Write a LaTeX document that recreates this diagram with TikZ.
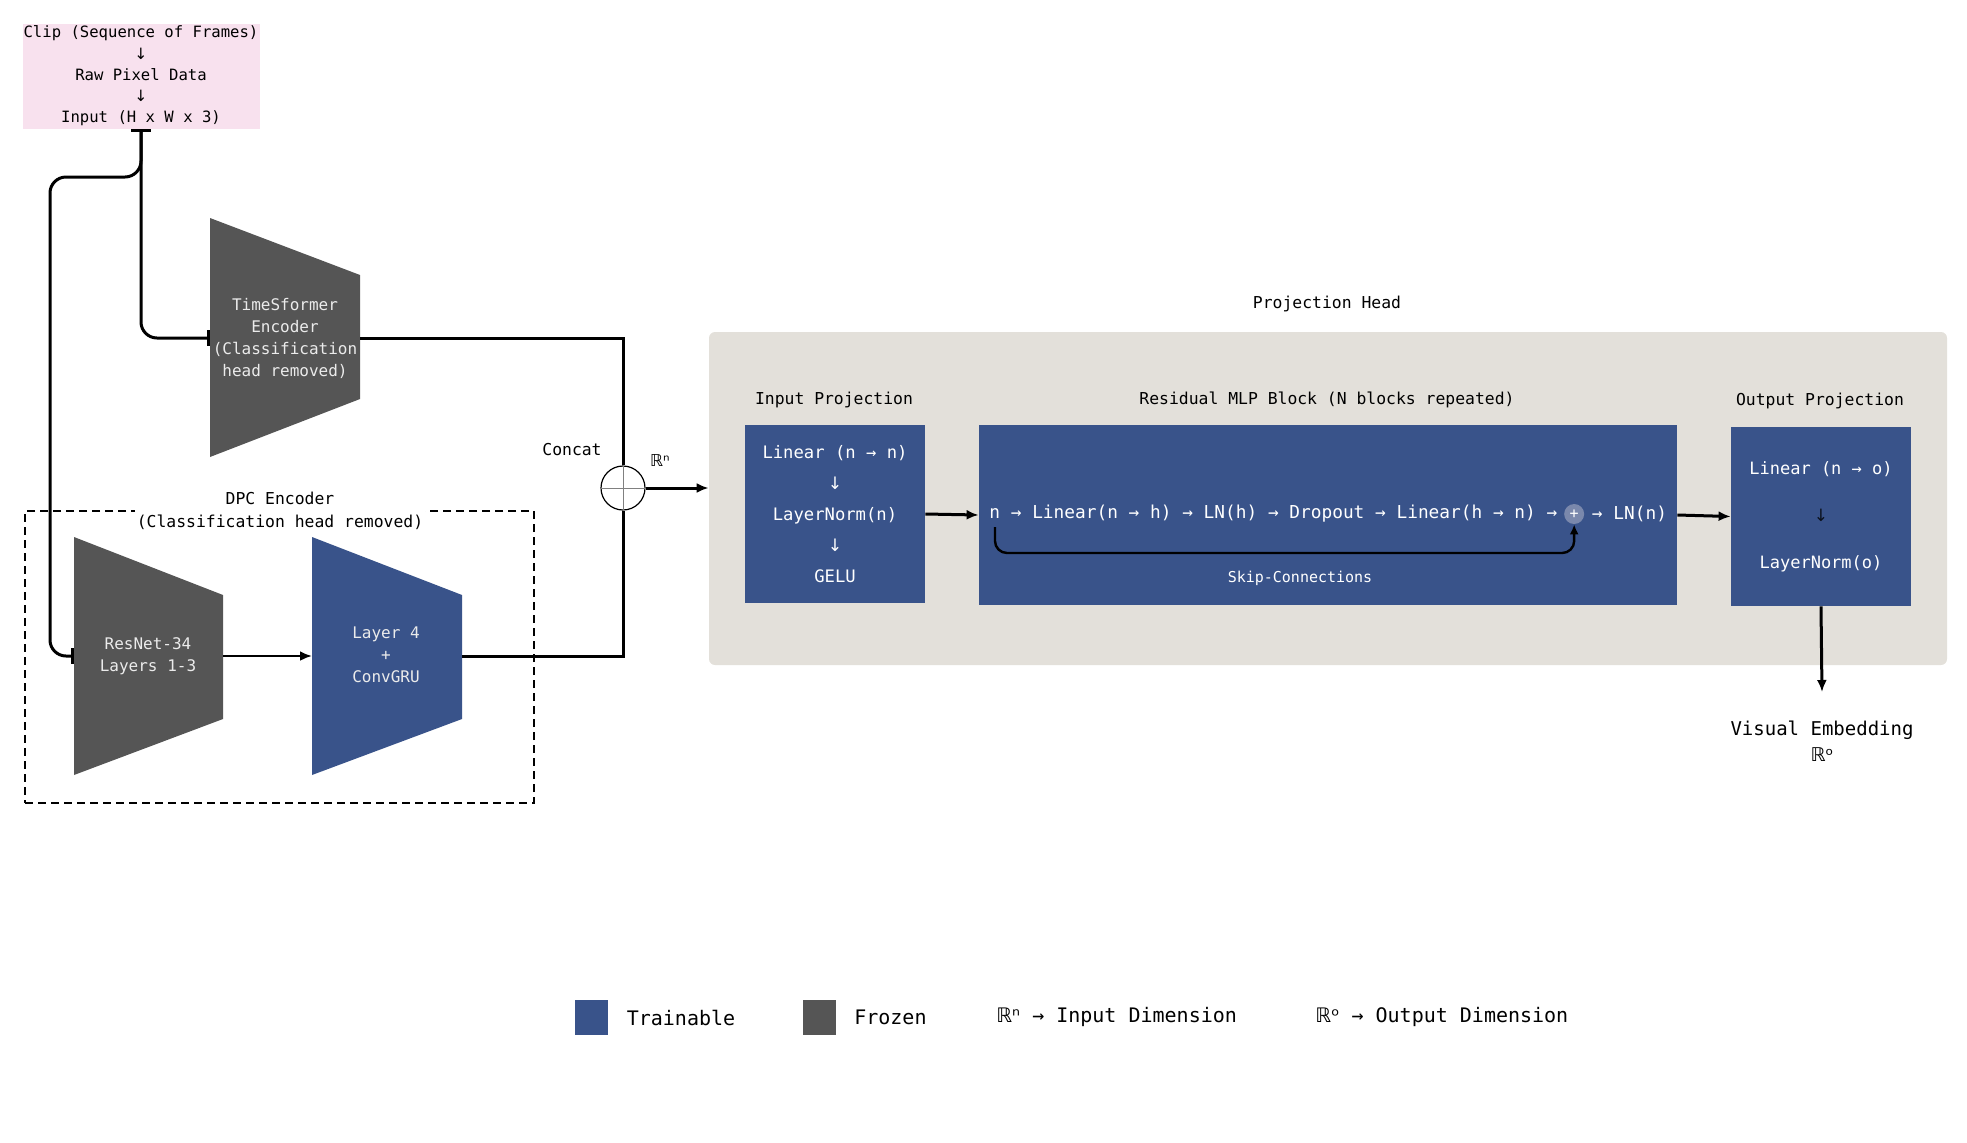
\documentclass[tikz,border=0pt]{standalone}
\usepackage{fontspec}
\setmonofont{DejaVu Sans Mono}
\newfontfamily\dvsans{DejaVu Sans}
\usepackage{tikz}
\usetikzlibrary{arrows.meta}
\usetikzlibrary{positioning}
\definecolor{trainblue}{RGB}{57,83,138}
\definecolor{frozengray}{RGB}{85,85,85}
\definecolor{headgray}{RGB}{227,224,218}
\definecolor{clippink}{RGB}{248,225,238}
\definecolor{plusblue}{RGB}{122,136,172}
\newcommand{\darr}{{\dvsans ↓}}
\pgfdeclarelayer{bglayer}
\pgfdeclarelayer{nodelayer}
\pgfdeclarelayer{edgelayer}
\pgfsetlayers{bglayer,nodelayer,edgelayer,main}
\tikzstyle{heading}=[font=\ttfamily\fontsize{8.2}{11.5}\selectfont, inner sep=1pt]
\tikzstyle{block}=[rectangle, fill=trainblue, text=white, align=center, inner sep=0pt, font=\ttfamily\fontsize{8.6}{15.5}\selectfont]
\tikzstyle{blocktext}=[text=white, font=\ttfamily\fontsize{8.9}{11}\selectfont, inner sep=1pt]
\tikzstyle{trapetext}=[text=white!92!black, align=center, font=\ttfamily\fontsize{8}{11}\selectfont]
\tikzstyle{sumnode}=[circle, draw=black, fill=white, line width=0.6pt, minimum size=22pt, inner sep=0pt]
\tikzstyle{plusnode}=[circle, fill=plusblue, text=white, minimum size=10pt, inner sep=0pt, font=\ttfamily\fontsize{7.5}{7.5}\selectfont]
\tikzstyle{flow}=[line width=1.5pt]
\tikzstyle{swatch}=[rectangle, minimum width=16.5pt, minimum height=17.5pt, inner sep=0pt]
\tikzstyle{legendtext}=[font=\ttfamily\fontsize{10}{12}\selectfont, inner sep=1pt]

\begin{document}
\begin{tikzpicture}[x=0.5pt, y=-0.5pt, font=\ttfamily\fontsize{8.2}{10.6}\selectfont]
        \useasboundingbox (0,0) rectangle (1967,1142);

        \begin{pgfonlayer}{bglayer}
            \node [rectangle, fill=headgray, rounded corners=3pt, minimum width=619pt, minimum height=166.5pt] (head) at (1328,498.5) {};
            \node [rectangle, draw=black, line width=1.1pt, dash pattern=on 4pt off 2.5pt, minimum width=254.5pt, minimum height=146pt] (dpc) at (279.5,657) {};
        \end{pgfonlayer}

        \begin{pgfonlayer}{nodelayer}
            % input clip
            \node [rectangle, fill=clippink, align=center, inner sep=0pt, minimum width=118.5pt, minimum height=52.5pt, font=\ttfamily\fontsize{7.8}{10.6}\selectfont] (clip) at (141,76) {Clip (Sequence of Frames)\\\darr\\Raw Pixel Data\\\darr\\Input (H x W x 3)};

            % encoders
            \fill [frozengray] (210,218) -- (360,275) -- (360,399) -- (210,457) -- cycle;
            \node [style = trapetext] (tsf) at (285,338) {TimeSformer\\Encoder\\(Classification\\head removed)};
            \fill [frozengray] (74,537) -- (223,595) -- (223,719) -- (74,775) -- cycle;
            \node [style = trapetext] (resnet) at (148,656) {ResNet-34\\Layers 1-3};
            \fill [trainblue] (312,537) -- (462,595) -- (462,719) -- (312,775) -- cycle;
            \node [style = trapetext] (layer4) at (386,655) {Layer 4\\+\\ConvGRU};
            \node [style = heading, fill=white, align=center] (dpclbl) at (280,511) {DPC Encoder\\(Classification head removed)};

            \coordinate (tsin) at (210,338);
            \coordinate (tsout) at (360,338);
            \coordinate (rnin) at (74,656);
            \coordinate (rnout) at (223,656);
            \coordinate (l4in) at (312,656);
            \coordinate (l4out) at (462,656);
            \coordinate (fork) at (50,177);

            \node [style = sumnode] (cat) at (623,488) {};
            \node [style = heading] (concat) at (572,450) {Concat};
            \node [style = heading] (rn) at (660,461) {{\dvsans ℝⁿ}};

            % projection head
            \node [style = heading] (headlbl) at (1327,304) {Projection Head};
            \node [style = heading] (inlbl) at (834,400) {Input Projection};
            \node [style = heading] (reslbl) at (1327,400) {Residual MLP Block (N blocks repeated)};
            \node [style = heading] (outlbl) at (1820,401) {Output Projection};

            \node [style = block, minimum width=90pt, minimum height=89pt] (inproj) at (835,514) {Linear (n → n)\\\darr\\LayerNorm(n)\\\darr\\GELU};
            \node [style = block, minimum width=349pt, minimum height=90pt] (res) at (1328,515) {};
            \node [style = block, minimum width=90pt, minimum height=89.5pt, font=\ttfamily\fontsize{8.5}{23.5}\selectfont] (outproj) at (1821,516.5) {Linear (n → o)\\{\color{black!80!trainblue}\darr}\\LayerNorm(o)};

            \node [style = blocktext, anchor=west] (seqa) at (987,514) {n → Linear(n → h) → LN(h) → Dropout → Linear(h → n) →};
            \node [style = plusnode, right=2pt of seqa] (plus) {+};
            \node [style = blocktext, right=2.5pt of plus] (seqb) {→ LN(n)};
            \node [style = blocktext, font=\ttfamily\fontsize{7.5}{9}\selectfont] (skiplbl) at (1300,578) {Skip-Connections};
            \coordinate (skipin) at (995,527);
            \coordinate (skipbot) at (995,553);

            \coordinate (visin) at (1822,692);
            \node [align=center, font=\ttfamily\fontsize{9.5}{13}\selectfont] (vis) at (1822,741) {Visual Embedding\\{\dvsans ℝᵒ}};

            % legend
            \node [style = swatch, fill=trainblue] (sw1) at (591.5,1017.5) {};
            \node [style = legendtext, right=8pt of sw1] (lg1) {Trainable};
            \node [style = swatch, fill=frozengray] (sw2) at (819,1017.5) {};
            \node [style = legendtext, right=8pt of sw2] (lg2) {Frozen};
            \node [style = legendtext, anchor=west] (lg3) at (994,1017) {{\dvsans ℝⁿ} → Input Dimension};
            \node [style = legendtext, anchor=west] (lg4) at (1313,1017) {{\dvsans ℝᵒ} → Output Dimension};
        \end{pgfonlayer}

        \begin{pgfonlayer}{edgelayer}
            \draw [style = flow, rounded corners=8pt, {Bar[width=10pt]}-{Bar[width=8pt]}] (clip.south) |- (fork) |- (rnin);
            \draw [style = flow, rounded corners=8pt, {Bar[width=10pt]}-{Bar[width=8pt]}] (clip.south) |- (tsin);
            \draw [style = flow] (tsout) -| (cat.north);
            \draw [style = flow] (l4out) -| (cat.south);
            \draw [gray, line width=0.5pt] (cat.north) -- (cat.south);
            \draw [gray, line width=0.5pt] (cat.west) -- (cat.east);
            \draw [style = flow, -{Latex[length=6pt,width=5pt]}] (cat.east) -- (cat.east -| head.west);
            \draw [line width=1.2pt, -{Latex[length=6pt,width=5pt]}] (rnout) -- (l4in);

            \draw [style = flow, -{Latex[length=6pt,width=5pt]}] (inproj.east) -- (res.west);
            \draw [line width=1.2pt, rounded corners=6pt, -{Latex[length=5pt,width=4.5pt]}] (skipin) -- (skipbot) -| (plus.south);
            \draw [style = flow, -{Latex[length=6pt,width=5pt]}] (res.east) -- (outproj.west);
            \draw [style = flow, -{Latex[length=6pt,width=5pt]}] (outproj.south) -- (visin);
        \end{pgfonlayer}
    \end{tikzpicture}
\end{document}
